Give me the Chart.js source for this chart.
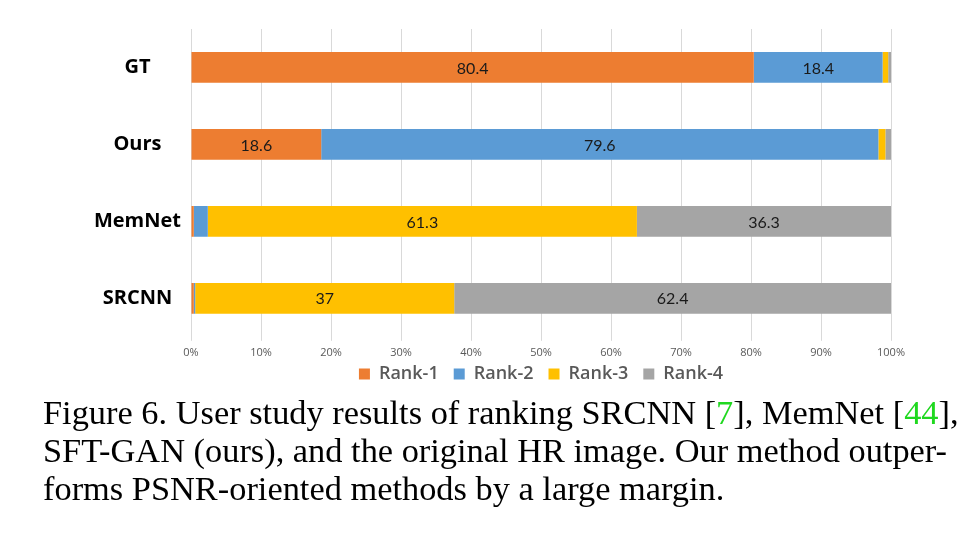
<!DOCTYPE html>
<html>
<head>
<meta charset="utf-8">
<script src="https://cdn.jsdelivr.net/npm/chart.js@4"></script>
<style>
  html, body { margin: 0; padding: 0; background: #fff; width: 978px; height: 549px; overflow: hidden; }
  #wrap { position: absolute; left: 0; top: 0; width: 978px; height: 396px; }
  #caption {
    position: absolute; left: 43px; top: 394px;
    font-family: "Liberation Serif", "Times New Roman", serif;
    font-size: 34px; line-height: 38px; color: #000;
    white-space: nowrap; transform-origin: 0 0; transform: scaleX(1.011);
  }
  #caption .ref { color: #1fd81f; }
</style>
</head>
<body>
<div id="wrap"><canvas id="c" width="978" height="396"></canvas></div>
<div id="caption">Figure 6. User study results of ranking SRCNN [<span class="ref">7</span>], MemNet [<span class="ref">44</span>],<br>SFT-GAN (ours), and the original HR image. Our method outper-<br>forms PSNR-oriented methods by a large margin.</div>
<script>
const categories = ["GT", "Ours", "MemNet", "SRCNN"];
const seriesNames = ["Rank-1", "Rank-2", "Rank-3", "Rank-4"];
const rank1 = [80.4, 18.6, 0.4, 0.4];
const rank2 = [18.4, 79.6, 2.0, 0.2];
const rank3 = [0.8, 1.0, 61.3, 37];
const rank4 = [0.4, 0.8, 36.3, 62.4];
const xTicks = [0, 10, 20, 30, 40, 50, 60, 70, 80, 90, 100];
const colors = ["#ED7D31", "#5B9BD5", "#FFC000", "#A5A5A5"];

const valueLabels = {
  id: "valueLabels",
  afterDatasetsDraw(chart) {
    const ctx = chart.ctx;
    ctx.save();
    ctx.font = "16px Lato, 'Open Sans', sans-serif";
    ctx.fillStyle = "#1a1a1a";
    ctx.textAlign = "center";
    ctx.textBaseline = "middle";
    chart.data.datasets.forEach((ds, i) => {
      const meta = chart.getDatasetMeta(i);
      meta.data.forEach((bar, j) => {
        const v = ds.data[j];
        if (v >= 5) {
          const p = bar.getProps(["x", "y", "base"], true);
          ctx.fillText(String(v), (p.x + p.base) / 2, p.y + 1);
        }
      });
    });
    ctx.restore();
  }
};

const allSeries = [rank1, rank2, rank3, rank4];
new Chart(document.getElementById("c"), {
  type: "bar",
  data: {
    labels: categories,
    datasets: allSeries.map((d, i) => ({
      label: seriesNames[i],
      data: d,
      backgroundColor: colors[i],
      borderWidth: 0,
      barPercentage: 0.8,
      categoryPercentage: 0.5
    }))
  },
  options: {
    indexAxis: "y",
    responsive: false,
    animation: false,
    layout: { padding: { left: 80, right: 87, top: 29, bottom: 3 } },
    scales: {
      x: {
        stacked: true,
        min: 0, max: 100,
        afterBuildTicks(axis) { axis.ticks = xTicks.map(v => ({ value: v })); },
        ticks: {
          callback: v => v + "%",
          color: "#595959",
          font: { family: "'Open Sans', Lato, sans-serif", size: 11 },
          padding: 5,
          maxRotation: 0
        },
        grid: { color: "#D9D9D9", lineWidth: 1, drawTicks: true, tickLength: 4 },
        border: { display: false }
      },
      y: {
        stacked: true,
        afterFit(axis) { axis.width = 111; },
        ticks: {
          crossAlign: "center",
          color: "#000",
          font: { family: "'Open Sans', Lato, sans-serif", size: 20, weight: "bold" },
          padding: 10
        },
        grid: { display: false, drawTicks: false },
        border: { display: false }
      }
    },
    plugins: {
      legend: {
        position: "bottom",
        fullSize: false,
        labels: {
          boxWidth: 11, boxHeight: 11,
          color: "#595959",
          font: { family: "'Open Sans', Lato, sans-serif", size: 18, weight: "600" },
          padding: 1,
          generateLabels(chart) {
            const items = Chart.defaults.plugins.legend.labels.generateLabels(chart);
            items.forEach((it, i) => { if (i < items.length - 1) it.text = it.text + "\u00a0\u00a0\u00a0"; });
            return items;
          }
        }
      },
      tooltip: { enabled: false }
    }
  },
  plugins: [valueLabels]
});
</script>
</body>
</html>
